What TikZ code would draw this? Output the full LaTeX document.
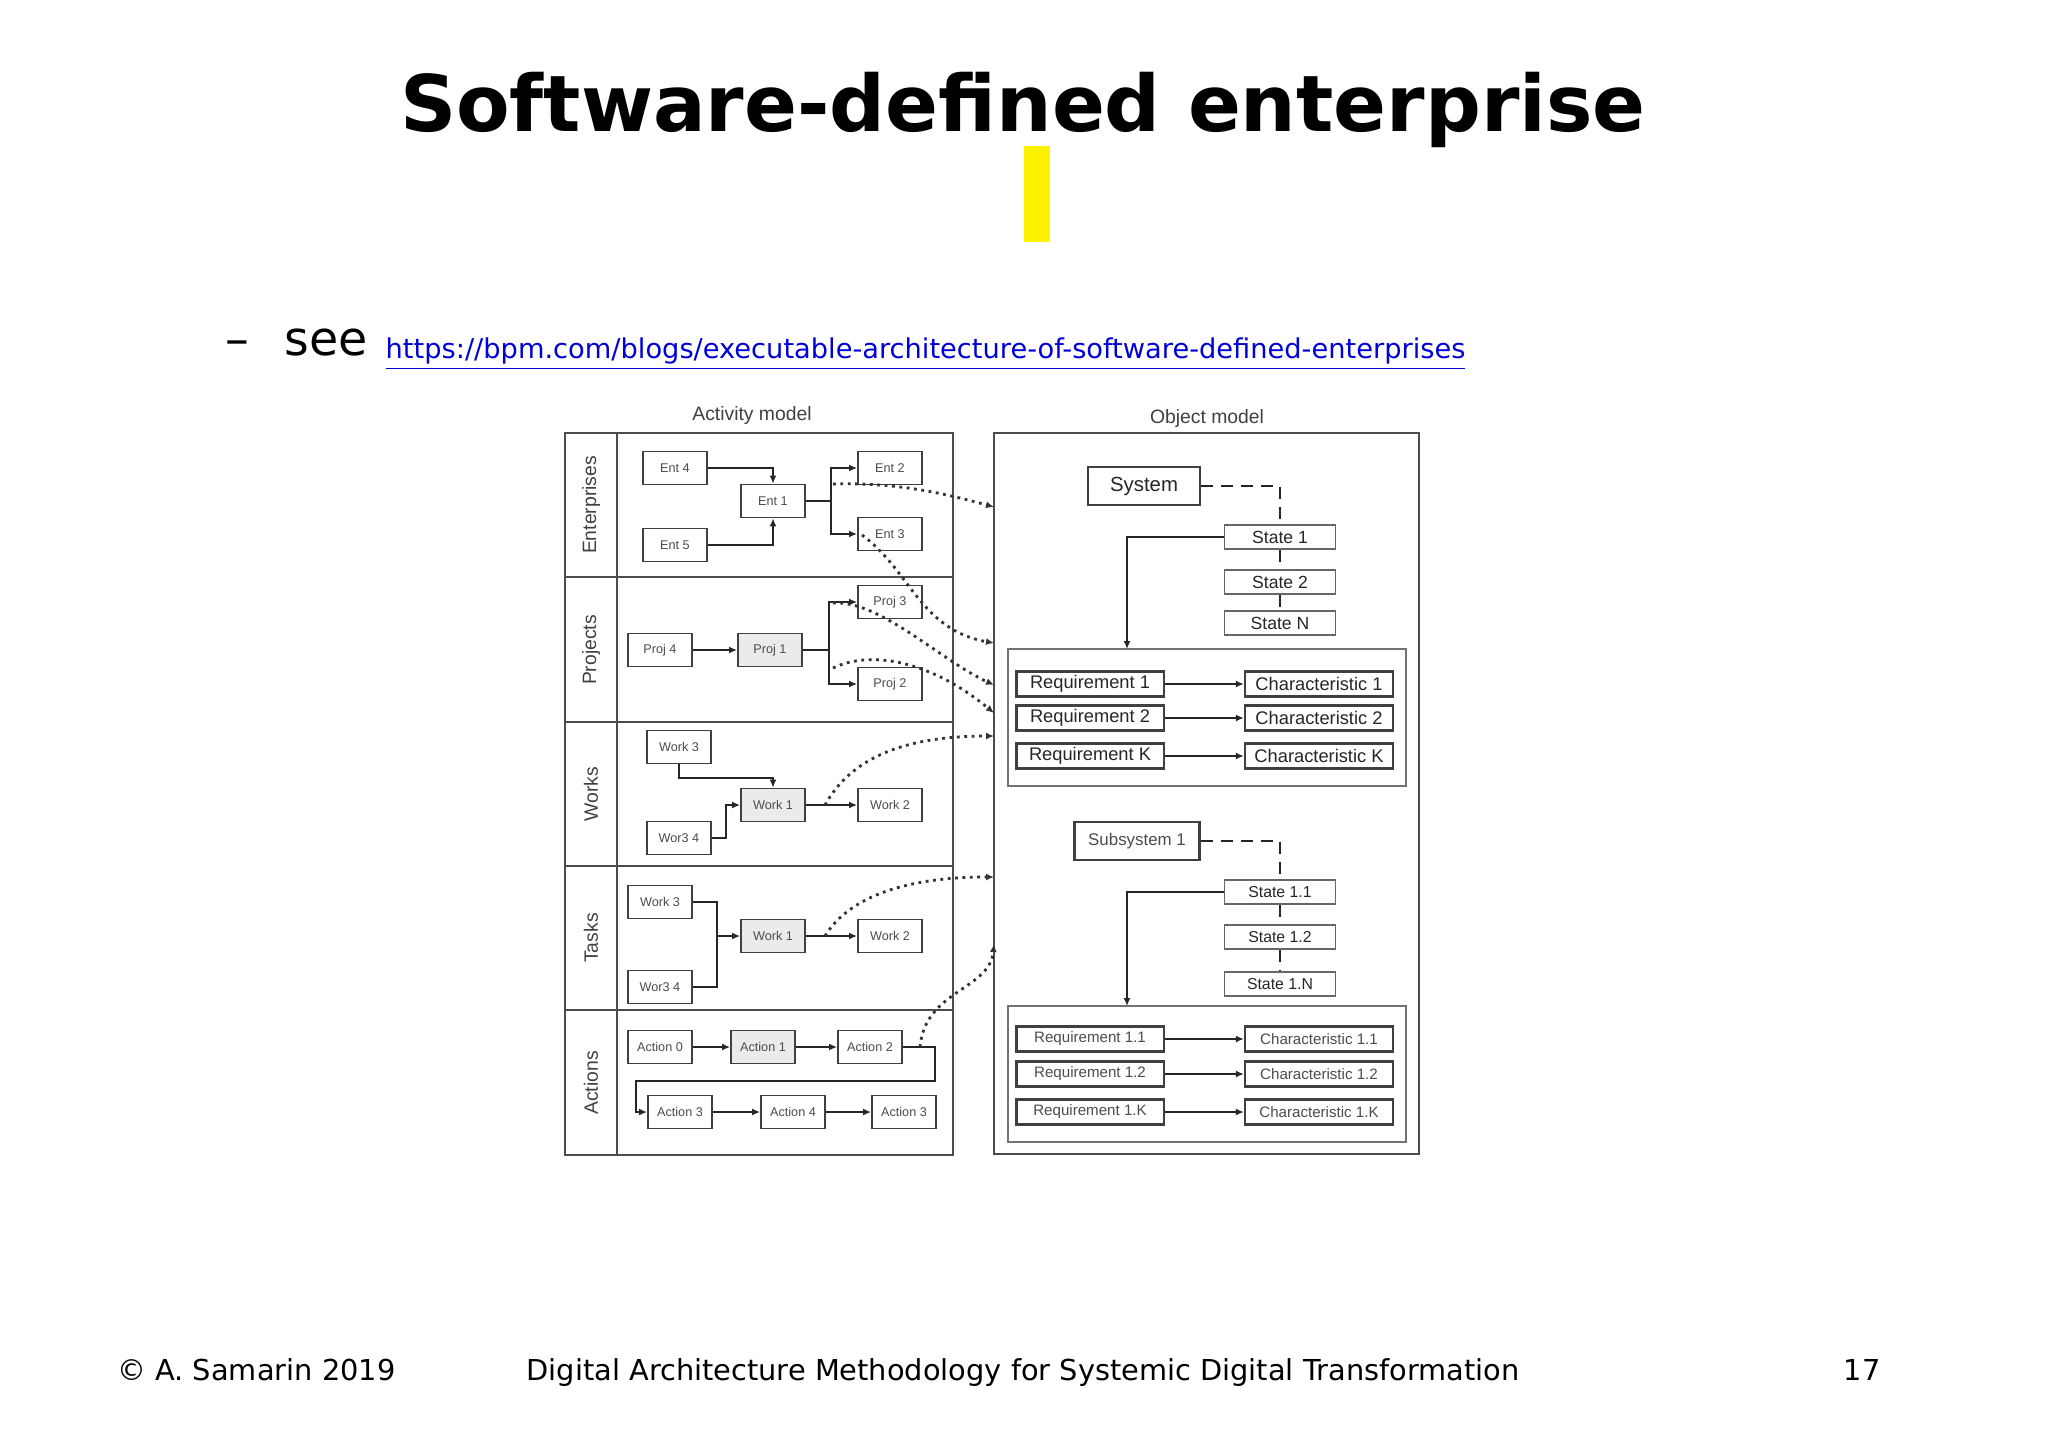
\documentclass[tikz,border=0pt]{standalone}
\usepackage{fontspec}
\setmainfont{DejaVu Sans}
\newfontfamily\arial{Liberation Sans}
\usetikzlibrary{arrows.meta}
\tikzset{
 ab/.style={draw=black!75,line width=0.5pt,minimum width=0.64cm,minimum height=0.33cm,inner sep=0pt,font=\arial\fontsize{3.6}{4}\selectfont,text=black!70},
 abg/.style={ab,fill=black!8},
 st/.style={draw=black!60,line width=0.5pt,minimum width=1.11cm,minimum height=0.24cm,inner sep=0pt,font=\arial\fontsize{5}{5}\selectfont,text=black!85},
 rq/.style={draw=black!75,line width=0.6pt,minimum width=1.47cm,minimum height=0.25cm,inner sep=0pt,font=\arial\fontsize{5.2}{5}\selectfont,text=black!85},
 rq2/.style={rq,font=\arial\fontsize{4.3}{5}\selectfont,text=black!70},
 frame/.style={draw=black!70,line width=0.8pt},
 con/.style={draw=black!85,line width=0.7pt},
 arr/.style={con,-{Latex[length=0.8mm,width=0.7mm]}},
 dots/.style={draw=black!80,line width=0.8pt,dash pattern=on 0.8pt off 1.3pt,-{Latex[length=0.8mm,width=0.7mm]}},
 dsh/.style={draw=black!85,line width=0.7pt,dash pattern=on 1.2mm off 0.8mm},
 lane/.style={font=\arial\fontsize{5.5}{6}\selectfont,text=black!75,rotate=90},
}
\begin{document}
\begin{tikzpicture}[x=0.01cm,y=-0.01cm]
\useasboundingbox (0,0) rectangle (2048,1448);
\fill[white] (0,0) rectangle (2048,1448);
% title
\node[font=\bfseries\fontsize{22.2}{26}\selectfont,anchor=base] (title) at (1023,131) {Software-defined enterprise};
\fill[yellow] (1024,146) rectangle (1050,242);
\node[font=\fontsize{13.5}{15}\selectfont,anchor=base west] (dash) at (213,355) {–};
\node[font=\fontsize{13.5}{15}\selectfont,anchor=base west] (see) at (272,355) {see};
\node[font=\fontsize{7.75}{9}\selectfont,anchor=base west,text=blue!85!black,inner sep=0pt] (url) at (385,358) {\underline{https://bpm.com/blogs/executable-architecture-of-software-defined-enterprises}};
% footer
\node[font=\fontsize{8.2}{10}\selectfont,anchor=base west] (c) at (105,1380) {© A. Samarin 2019};
\node[font=\fontsize{8.2}{10}\selectfont,anchor=base] (f) at (1023,1380) {Digital Architecture Methodology for Systemic Digital Transformation};
\node[font=\fontsize{8.2}{10}\selectfont,anchor=base east] (p) at (1893,1380) {17};

% ---------- Activity model
\node[font=\arial\fontsize{5.5}{6}\selectfont,text=black!75] (am) at (752,415) {Activity model};
\draw[frame] (565,433) rectangle (953,1155);
\draw[frame] (617,433) -- (617,1155);
\foreach \y in {577,722,866,1010} \draw[frame] (565,\y) -- (953,\y);
\node[lane] (l1) at (591,505) {Enterprises};
\node[lane] (l2) at (591,650) {Projects};
\node[lane] (l3) at (591,794) {Works};
\node[lane] (l4) at (591,938) {Tasks};
\node[lane] (l5) at (591,1083) {Actions};

\node[ab] (e4) at (675,468) {Ent 4};
\node[ab] (e1) at (773,501) {Ent 1};
\node[ab] (e5) at (675,545) {Ent 5};
\node[ab] (e2) at (890,468) {Ent 2};
\node[ab] (e3) at (890,534) {Ent 3};
\draw[arr] (e4.east) -| (e1.north);
\draw[arr] (e5.east) -| (e1.south);
\draw[arr] (e1.east) -- (831,501) |- (e2.west);
\draw[arr] (831,501) |- (e3.west);

\node[ab] (p3) at (890,602) {Proj 3};
\node[ab] (p4) at (660,650) {Proj 4};
\node[abg] (p1) at (770,650) {Proj 1};
\node[ab] (p2) at (890,684) {Proj 2};
\draw[arr] (p4) -- (p1);
\draw[arr] (p1.east) -- (829,650) |- (p3.west);
\draw[arr] (829,650) |- (p2.west);

\node[ab] (w3) at (679,747) {Work 3};
\node[abg] (w1) at (773,805) {Work 1};
\node[ab] (w4) at (679,838) {Wor3 4};
\node[ab] (w2) at (890,805) {Work 2};
\draw[arr] (w3.south) |- (773,778) -- (w1.north);
\draw[arr] (w4.east) -| (726,805) -- (w1.west);
\draw[arr] (w1) -- (w2);

\node[ab] (t3) at (660,902) {Work 3};
\node[abg] (t1) at (773,936) {Work 1};
\node[ab] (t4) at (660,987) {Wor3 4};
\node[ab] (t2) at (890,936) {Work 2};
\draw[con] (t3.east) -| (717,936);
\draw[con] (t4.east) -| (717,936);
\draw[arr] (717,936) -- (t1.west);
\draw[arr] (t1) -- (t2);

\node[ab] (a0) at (660,1047) {Action 0};
\node[abg] (a1) at (763,1047) {Action 1};
\node[ab] (a2) at (870,1047) {Action 2};
\node[ab] (a3) at (680,1112) {Action 3};
\node[ab] (a4) at (793,1112) {Action 4};
\node[ab] (a5) at (904,1112) {Action 3};
\draw[arr] (a0) -- (a1);
\draw[arr] (a1) -- (a2);
\draw[arr] (a2.east) -- (935,1047) -- (935,1081) -- (636,1081) |- (a3.west);
\draw[arr] (a3) -- (a4);
\draw[arr] (a4) -- (a5);

% ---------- Object model
\node[font=\arial\fontsize{5.5}{6}\selectfont,text=black!75] (om) at (1207,418) {Object model};
\draw[frame] (994,433) rectangle (1419,1154);
\coordinate (omL1) at (994,507);
\coordinate (omL2) at (994,643);
\coordinate (omL3) at (994,685);
\coordinate (omL4) at (994,713);
\coordinate (omL5) at (994,736);
\coordinate (omL6) at (994,877);
\coordinate (omL7) at (994,944);

\node[rq,minimum width=1.12cm,minimum height=0.38cm,font=\arial\fontsize{5.8}{6}\selectfont] (sys) at (1144,486) {System};
\node[st] (s1) at (1280,537) {State 1};
\node[st] (s2) at (1280,582) {State 2};
\node[st] (sn) at (1280,623) {State N};
\draw[dsh] (sys.east) -| (s1.north);
\draw[dsh] (s1) -- (s2);
\draw[dsh] (s2) -- (sn);
\draw[frame,line width=0.6pt,draw=black!55] (1008,649) rectangle (1406,786);
\coordinate (b1) at (1127,649);
\draw[arr] (s1.west) -| (b1);
\foreach \n/\t/\y in {1/1/684,2/2/718,3/K/756}{
 \node[rq] (r\n) at (1090,\y) {Requirement \t};
 \node[rq,minimum width=1.48cm] (c\n) at (1319,\y) {Characteristic \t};
 \draw[arr] (r\n) -- (c\n);
}

\node[rq2,minimum width=1.25cm,minimum height=0.38cm,font=\arial\fontsize{4.8}{6}\selectfont] (sub) at (1137,841) {Subsystem 1};
\node[st,font=\arial\fontsize{4.5}{5}\selectfont] (s11) at (1280,892) {State 1.1};
\node[st,font=\arial\fontsize{4.5}{5}\selectfont] (s12) at (1280,937) {State 1.2};
\node[st,font=\arial\fontsize{4.5}{5}\selectfont] (s1n) at (1280,984) {State 1.N};
\draw[dsh] (sub.east) -| (s11.north);
\draw[dsh] (s11) -- (s12);
\draw[dsh] (s12) -- (s1n);
\draw[frame,line width=0.6pt,draw=black!55] (1008,1006) rectangle (1406,1142);
\coordinate (b2) at (1127,1006);
\draw[arr] (s11.west) -| (b2);
\foreach \n/\t/\y in {1/1.1/1039,2/1.2/1074,3/1.K/1112}{
 \node[rq2] (rr\n) at (1090,\y) {Requirement \t};
 \node[rq2,minimum width=1.48cm] (cc\n) at (1319,\y) {Characteristic \t};
 \draw[arr] (rr\n) -- (cc\n);
}

% ---------- dotted mappings
\draw[dots] (833,484) .. controls (900,482) and (950,495) .. (omL1);
\draw[dots] (862,535) .. controls (910,570) and (920,630) .. (omL2);
\draw[dots] (833,603) .. controls (880,600) and (940,660) .. (omL3);
\draw[dots] (833,668) .. controls (870,650) and (930,660) .. (omL4);
\draw[dots] (825,805) .. controls (850,760) and (900,736) .. (omL5);
\draw[dots] (825,936) .. controls (850,895) and (910,877) .. (omL6);
\draw[dots] (920,1047) .. controls (925,990) and (990,990) .. (omL7);
\end{tikzpicture}
\end{document}
